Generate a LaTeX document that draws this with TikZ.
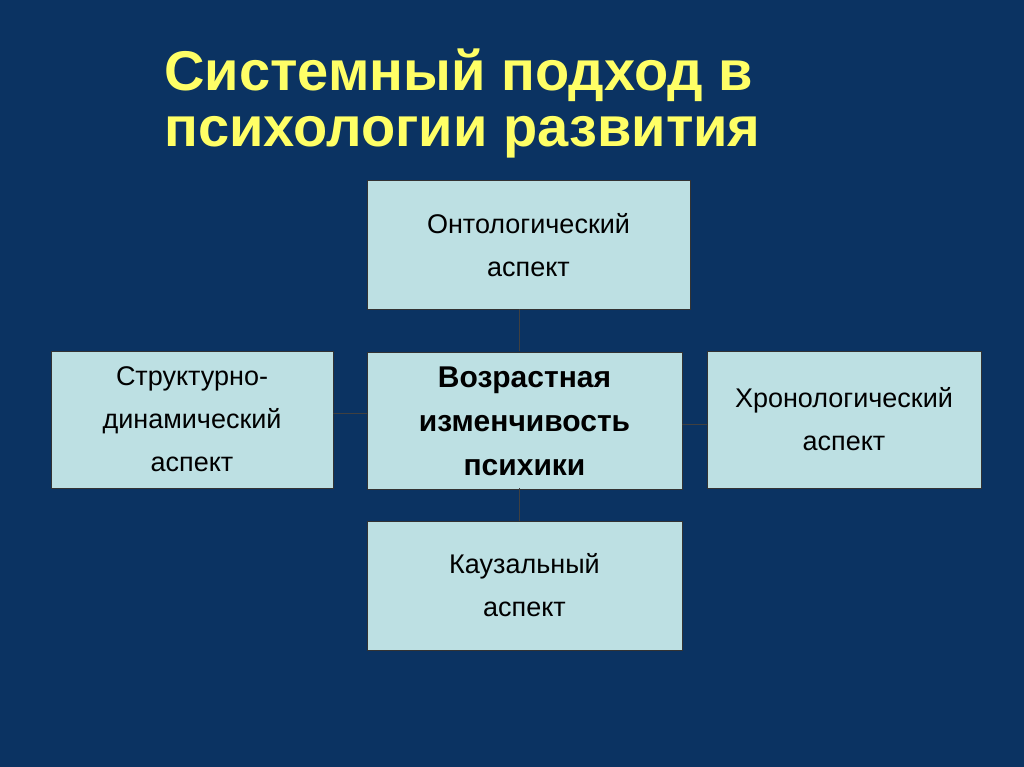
\documentclass[tikz,border=0pt]{standalone}
\usepackage{fontspec}
\setmainfont{Liberation Sans}
\definecolor{bg}{HTML}{0B3362}
\definecolor{ttl}{HTML}{FFFF66}
\definecolor{boxf}{HTML}{BDE0E3}
\begin{document}
\begin{tikzpicture}[x=1pt,y=-1pt,
 bx/.style={draw=black!80,line width=1pt,fill=boxf,align=center,font=\fontsize{27}{43}\selectfont,inner sep=0pt},
 ln/.style={draw=black!75,line width=1pt}]
\fill[bg] (0,0) rectangle (1024,767);
\useasboundingbox (0,0) rectangle (1024,767);
\node[anchor=west,text=ttl,font=\bfseries\fontsize{56}{56}\selectfont,align=left] (title) at (161,103) {Системный подход в\\психологии развития};
\node[bx,minimum width=323,minimum height=128] (top) at (528.5,245) {Онтологический\\аспект};
\node[bx,minimum width=282,minimum height=137] (left) at (192,419.5) {Структурно-\\динамический\\аспект};
\node[bx,minimum width=315,minimum height=137,font=\bfseries\fontsize{30}{44}\selectfont] (cen) at (524.5,421) {Возрастная\\изменчивость\\психики};
\node[bx,minimum width=274,minimum height=137] (right) at (844,419.5) {Хронологический\\аспект};
\node[bx,minimum width=315,minimum height=129] (bot) at (524.5,585.5) {Каузальный\\аспект};
\draw[ln] (519,309) -- (519,351);
\draw[ln] (519,488) -- (519,521);
\draw[ln] (333,413) -- (367,413);
\draw[ln] (682,424) -- (707,424);
\end{tikzpicture}
\end{document}
